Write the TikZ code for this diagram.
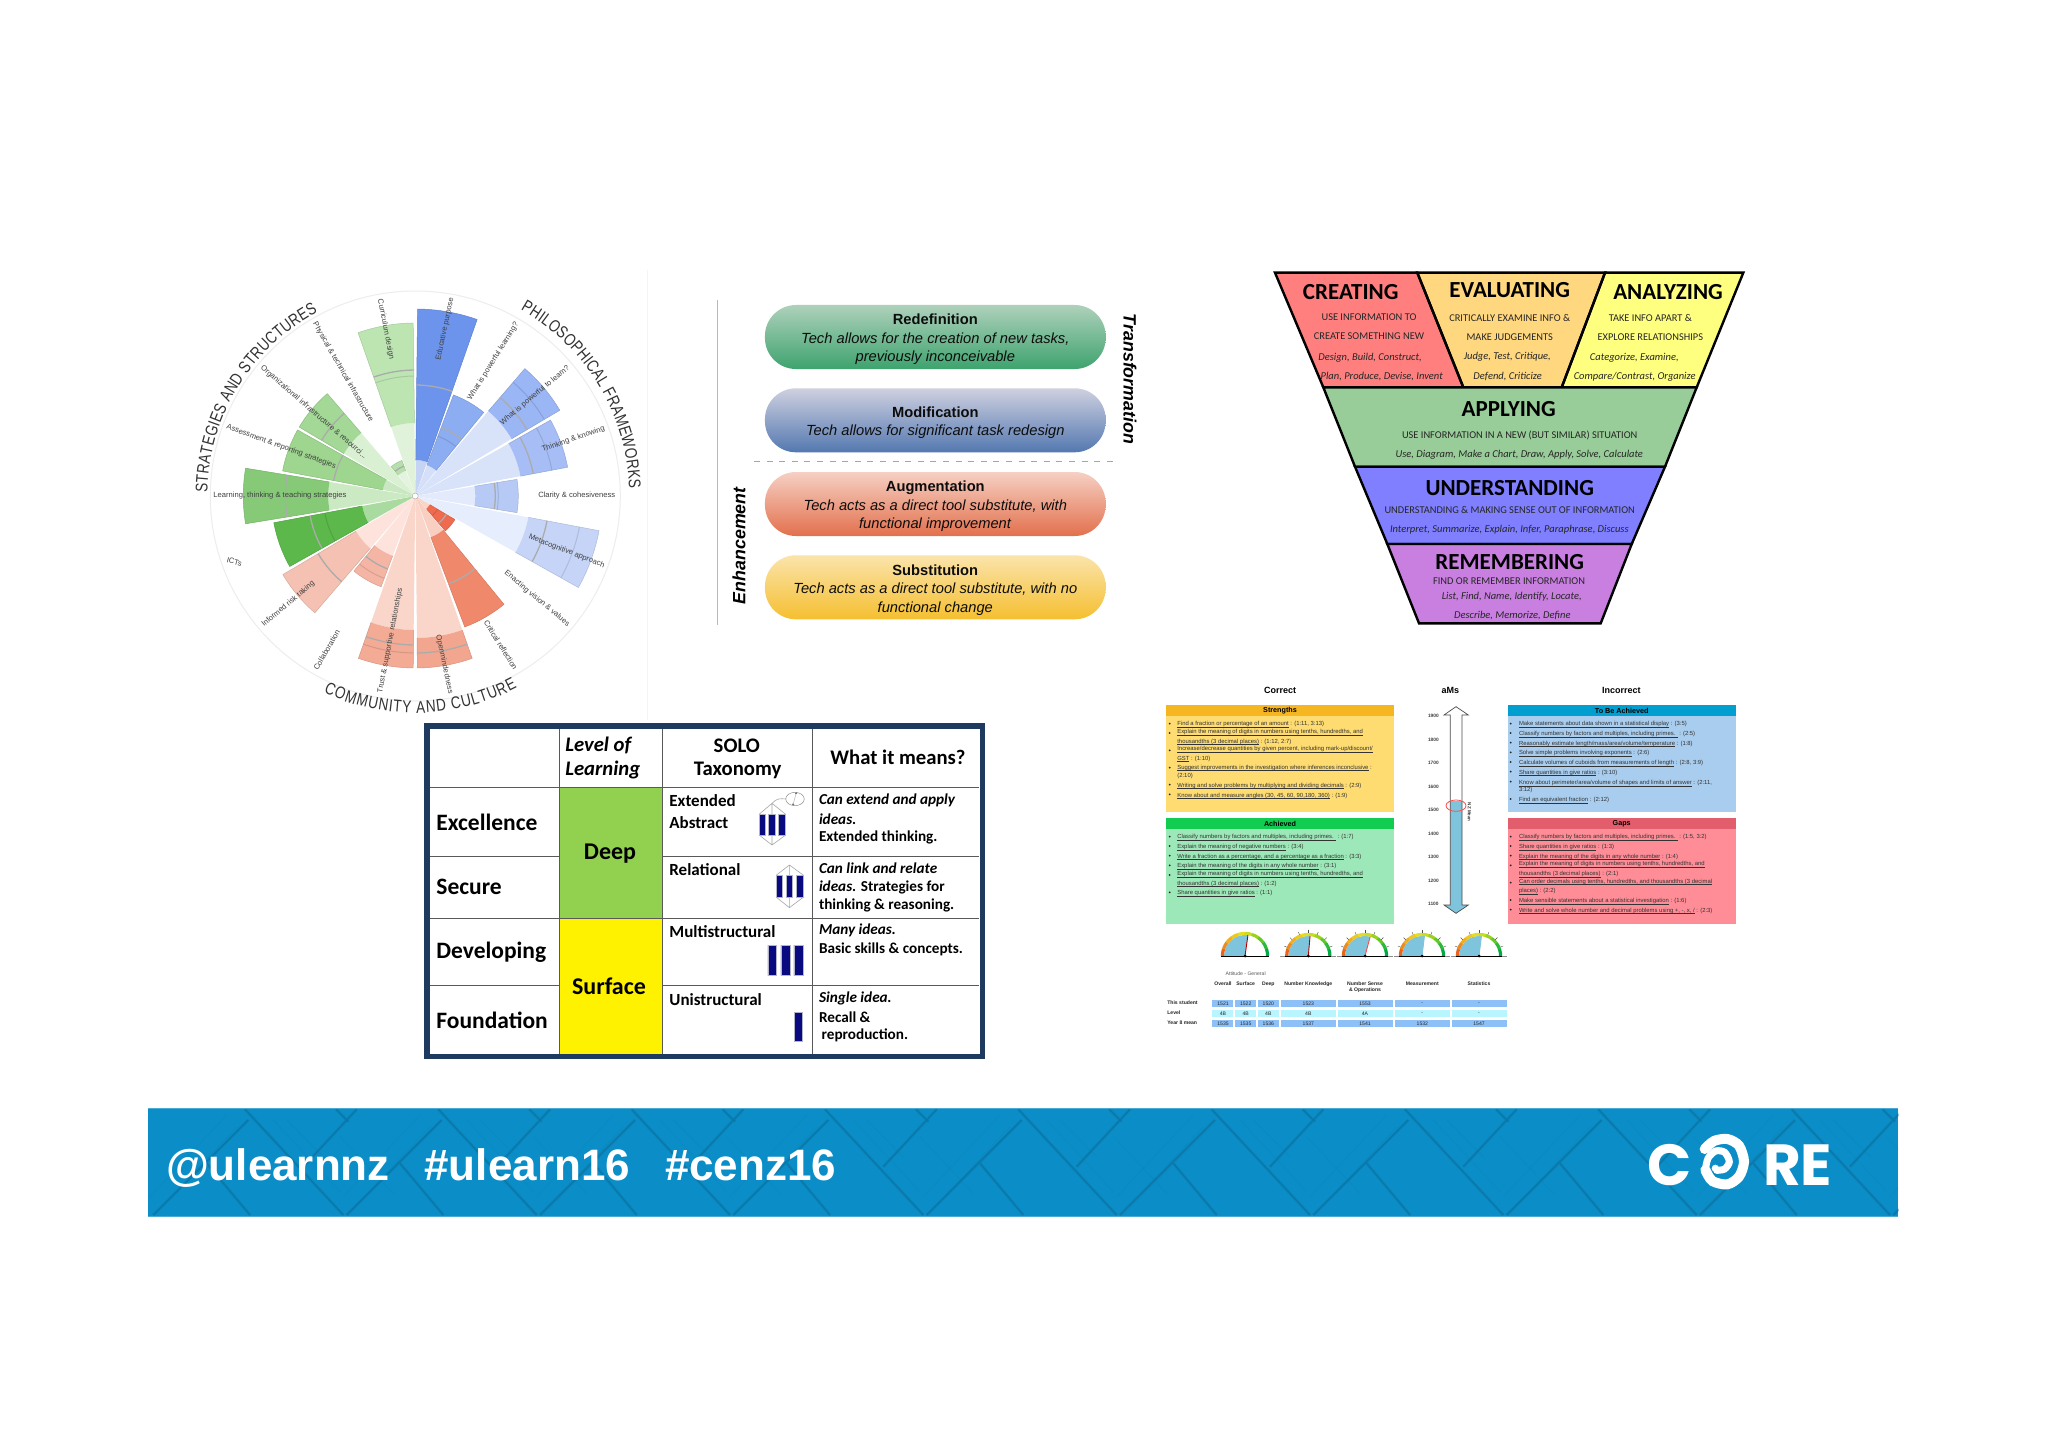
\documentclass[tikz,border=0pt]{standalone}
\usepackage{fontspec}
\usetikzlibrary{decorations.text}
\setmainfont{Liberation Sans}
\newfontfamily\carl{Carlito}
\newfontfamily\popp{Poppins}
\newfontfamily\arcf[FakeStretch=0.8]{Liberation Sans}
\newcommand\fs[1]{\fontsize{#1}{#1}\selectfont}
\newcounter{lblc}
\tikzset{lbl/.style={inner sep=0pt,outer sep=0pt},
 arclabel/.style={decorate,decoration={text along path,text align={fit to path}}}}
\newcommand\lb[4][]{\stepcounter{lblc}\node[lbl,#1] (t\arabic{lblc}) at (#2,#3) {#4};}
% wheel helpers (math angles, y up)
\newcommand\wsec[5]{\fill[#5] (#1-0.7:#3 pt) arc[start angle=#1-0.7,end angle=#2+0.7,radius=#3 pt] -- (#2+0.7:#4 pt) arc[start angle=#2+0.7,end angle=#1-0.7,radius=#4 pt] -- cycle;}
\newcommand\warc[4][wgrey]{\draw[#1,line width=#4] (#2-0.7:#3 pt) arc[start angle=#2-0.7,end angle=#2-19.3,radius=#3 pt];}
\newcommand\ws[7]{% a1 r-in r-out lightfill darkfill greyR darkarc
 \pgfmathsetmacro\wend{#1-20}
 \definecolor{wl}{HTML}{#4}\definecolor{wd}{HTML}{#5}
 \wsec{#1}{\wend}{0.5}{#2}{wl}
 \wsec{#1}{\wend}{#2}{#3}{wd}
 \draw[wd!88!black,line width=.5] (#1-0.7:#2 pt) -- (#1-0.7:#3 pt) arc[start angle=#1-0.7,end angle=\wend+0.7,radius=#3 pt] -- (\wend+0.7:#2 pt);
 \ifx\relax#7\relax\else\warc[wd!88!black]{#1}{#7}{1}\fi
 \warc{#1}{#6}{1.3}}
\newcommand\secl[4]{\lb[font=\fs{7.6},text=black!75,rotate=#4]{#1}{#2}{#3}}
\newcommand\bt[4]{\lb[yshift=-1pt,font=\carl\bfseries\fs{#3}]{#1}{#2}{#4}}
\newcommand\bb[3]{\lb[yshift=-1pt,font=\carl\fs{10.4},text=black!85]{#1}{#2}{#3}}
\newcommand\bi[3]{\lb[yshift=-1.5pt,font=\carl\itshape\fs{10.5},text=black!85]{#1}{#2}{#3}}
\newcommand\dl[4]{\lb[anchor=west,font=\fs{5.9},text=black!80]{#1}{#2}{\underline{\smash{#3}}#4}}
\newcommand\mydot[2]{\fill[black!85] (#1,#2) circle[radius=3];}
\newcommand\gauge[5]{%
 \begin{scope}[shift={(#1,956)},y=1pt]
 \fill[white] (180:#2 pt) arc[start angle=180,end angle=0,radius=#2 pt] -- cycle;
 \fill[gblue] (0,0) -- (180:#2 pt-3pt) arc[start angle=180,end angle=#3,radius=#2 pt-3pt] -- cycle;
 \foreach \c [count=\i from 0] in {ga,gb,gc,gd,ge,gf,gg,gh,gi,gj}{
 \pgfmathsetmacro\sa{180-\i*18}\pgfmathsetmacro\sb{\sa-18.5}
 \draw[\c,line width=3.2pt] (\sa:#2 pt-1.4pt) arc[start angle=\sa,end angle=\sb,radius=#2 pt-1.4pt];}
 #4
 \draw[#5,line width=.9pt] (0,0) -- (#3:#2 pt-3pt);
 \draw[black,line width=1pt] (-#2 pt,0) -- (#2 pt,0);
 \fill[black] (0,0) circle[radius=1.5pt];
 \end{scope}}
\newcommand\gticks{\foreach \t in {0,22.5,...,180}{\draw[black!70,line width=.4pt] (\t:23pt) -- (\t:26pt);}\draw[black!45,line width=.5pt] (-28pt,0) -- (28pt,0);}
\definecolor{wgrey}{HTML}{ABABAB}
\definecolor{gblue}{HTML}{7EC4DC}
\definecolor{ga}{HTML}{E8641C}\definecolor{gb}{HTML}{EE8A1E}\definecolor{gc}{HTML}{F2AE20}\definecolor{gd}{HTML}{ECC820}\definecolor{ge}{HTML}{E6DC20}
\definecolor{gf}{HTML}{C8DC20}\definecolor{gg}{HTML}{9CD21E}\definecolor{gh}{HTML}{60C828}\definecolor{gi}{HTML}{28BA38}\definecolor{gj}{HTML}{00A848}
\definecolor{frame}{HTML}{1F3A5F}
\definecolor{navybar}{HTML}{0A0A80}
\definecolor{halo}{HTML}{B4B4C8}
\definecolor{band}{HTML}{0B8EC7}
\definecolor{weave}{HTML}{0A76A8}
\definecolor{grn1}{HTML}{AED1BB}\definecolor{grn2}{HTML}{3EA36E}
\definecolor{blu1}{HTML}{CFD0E0}\definecolor{blu2}{HTML}{5378B0}
\definecolor{red1}{HTML}{F6D0C4}\definecolor{red2}{HTML}{E2704C}
\definecolor{yel1}{HTML}{FBE4AB}\definecolor{yel2}{HTML}{F5BF30}
\definecolor{bc}{HTML}{FF7F7F}\definecolor{be}{HTML}{FFD77F}\definecolor{ba}{HTML}{FFFF7F}
\definecolor{bp}{HTML}{98CC98}\definecolor{bu}{HTML}{7F7FFF}\definecolor{br}{HTML}{C87FE0}
\definecolor{hs}{HTML}{F5B622}\definecolor{bs}{HTML}{FEDC72}
\definecolor{ha}{HTML}{10CC50}\definecolor{bn}{HTML}{9DE8B8}
\definecolor{ht}{HTML}{009FCF}\definecolor{bt}{HTML}{A9CDEE}
\definecolor{hg}{HTML}{E25E6C}\definecolor{bg}{HTML}{FE8D97}
\definecolor{cell}{HTML}{8EC0F8}\definecolor{cellb}{HTML}{B9F5FF}
\definecolor{deep}{HTML}{92D050}
\tikzset{pill/.style={lbl,rounded corners=31pt,minimum width=340.7pt,minimum height=64pt},
 pilltext/.style={lbl,align=center,font=\fontsize{14.7}{18.6}\selectfont,text=black!95},
 tier/.style={draw=black,line width=2.4pt,line join=miter},
 grid/.style={draw=black!65,line width=.9pt},
 bar/.style={fill=navybar,draw=halo,line width=.7pt},
 rowhead/.style={anchor=west,font=\carl\bfseries\fs{23.5}},
 tophead/.style={font=\carl\bfseries\fs{20.7}},
 solo/.style={anchor=west,font=\carl\bfseries\fs{17}},
 mean/.style={anchor=west,font=\carl\bfseries\fs{15.2}},
 meani/.style={anchor=west,font=\carl\bfseries\itshape\fs{15.2}}}
\begin{document}
\begin{tikzpicture}[x=1pt,y=-1pt]
\useasboundingbox (0,0) rectangle (2048,1447);
\fill[white] (0,0) rectangle (2048,1447);
\draw[black!4,line width=1] (647,270) -- (647,720);
%% ---------- WHEEL ----------
\begin{scope}[shift={(415.3,496)},y=1pt]
\draw[black!7,line width=1] (0,0) circle[radius=205pt];
\ws{90}{36}{187}{C5D4F5}{6C94EC}{111}{}
\ws{70}{33}{108}{D5E0F8}{8DADF2}{73}{64}
\ws{50}{112}{168}{D8E3FA}{9BB6F4}{130}{150}
\ws{30}{107}{155}{D8E3FA}{A6BEF5}{120}{139}
\ws{10}{60}{103}{E3EAFB}{B7CAF5}{80}{83}
\ws{-10}{115}{187}{E6EDFC}{C6D5F7}{134}{167}
\ws{-30}{17}{46}{F9D4C8}{EF6B4F}{36}{26}
\ws{-50}{44}{140}{F9CFC1}{F0896C}{94}{}
\ws{-70}{142}{172}{FAD6CA}{F3A68F}{157}{}
\ws{-90}{134}{172}{FAD6CA}{F3AB96}{149}{157}
\ws{-110}{64}{97}{FDE3DB}{F5B5A4}{78}{88}
\ws{-130}{69}{154}{FDE3DB}{F5C1B2}{113}{}
\ws{-150}{54}{144}{A9DBA0}{5CB84A}{107}{92}
\ws{-170}{87}{172}{CBE9C3}{86CA78}{130}{}
\ws{170}{33}{135}{C9E8C1}{9ED68F}{83}{}
\ws{150}{83}{135}{D9F0D3}{A3D896}{109}{}
\ws{130}{27}{38}{E3F3DF}{B5E0AB}{32}{}
\ws{110}{73}{173}{E0F3DA}{BDE5B2}{126}{120}
\fill[white] (0,0) circle[radius=3pt];
\draw[black!35,line width=.4] (0,0) circle[radius=3pt];
\path[arclabel,decoration={text={|\arcf\fs{17}\color{black!80}|STRATEGIES AND STRUCTURES}}] (179:208pt) arc[start angle=179,end angle=118,radius=208pt];
\path[arclabel,decoration={text={|\arcf\fs{17}\color{black!80}|PHILOSOPHICAL FRAMEWORKS}}] (60.5:214pt) arc[start angle=60.5,end angle=2,radius=214pt];
\path[arclabel,decoration={text={|\arcf\fs{17}\color{black!80}|COMMUNITY AND CULTURE}}] (245:217pt) arc[start angle=245,end angle=298,radius=217pt];
\end{scope}
\secl{385.7}{329.3}{Curriculum design}{-79}
\secl{343}{372.3}{Physical \& technical infrastructure}{-60}
\secl{313.7}{412.4}{Organizational infrastructure \& resourci...}{-41}
\secl{281.3}{446.7}{Assessment \& reporting strategies}{-20}
\secl{280}{496}{Learning, thinking \& teaching strategies}{0}
\secl{234.3}{561.7}{ICTs}{-15}
\secl{288.3}{604}{Informed risk taking}{40}
\secl{326.7}{650}{Collaboration}{60}
\secl{390.3}{640.7}{Trust \& supportive relationships}{79}
\secl{444.3}{664.3}{Openmindedness}{-78}
\secl{500.7}{645}{Critical reflection}{-58}
\secl{537}{598.7}{Enacting vision \& values}{-40}
\secl{566.7}{551.3}{Metacognitive approach}{-21}
\secl{576.7}{496}{Clarity \& cohesiveness}{0}
\secl{573.3}{439.3}{Thinking \& knowing}{19}
\secl{535}{395.3}{What is powerful to learn?}{40}
\secl{493.3}{361.3}{What is powerful learning?}{58}
\secl{445}{329}{Educative purpose}{78}
%% ---------- SAMR ----------
\draw[black!28,line width=1] (717.3,300) -- (717.3,625);
\draw[black!35,line width=1.2,dash pattern=on 6pt off 6.6pt] (754,461.3) -- (1117,461.3);
\node[pill,top color=grn1,bottom color=grn2] (redef) at (935.3,337) {};
\node[pill,top color=blu1,bottom color=blu2] (modif) at (935.3,420.3) {};
\node[pill,top color=red1,bottom color=red2] (augm) at (935.3,504) {};
\node[pill,top color=yel1,bottom color=yel2] (subst) at (935.3,587.3) {};
\node[pilltext] (redeft) at (935.3,339.5) {\textbf{Redefinition}\\\textit{Tech allows for the creation of new tasks,}\\\textit{previously inconceivable}};
\node[pilltext] (modift) at (935.3,422.8) {\textbf{Modification}\\\textit{Tech allows for significant task redesign}};
\node[pilltext] (augmt) at (935.3,506.5) {\textbf{Augmentation}\\\textit{Tech acts as a direct tool substitute, with}\\\textit{functional improvement}};
\node[pilltext] (substt) at (935.3,589.8) {\textbf{Substitution}\\\textit{Tech acts as a direct tool substitute, with no}\\\textit{functional change}};
\lb[rotate=-90,font=\bfseries\itshape\fs{17.8}]{1130}{379}{Transformation}
\lb[rotate=90,font=\bfseries\itshape\fs{17.8}]{739}{545.7}{Enhancement}
%% ---------- BLOOM ----------
\fill[bc] (1275,272.7) -- (1417.3,272.7) -- (1463.3,387.3) -- (1323.3,387.3) -- cycle;
\fill[be] (1417.3,272.7) -- (1605,272.7) -- (1561.7,387.3) -- (1463.3,387.3) -- cycle;
\fill[ba] (1605,272.7) -- (1743.3,272.7) -- (1696.7,387.3) -- (1561.7,387.3) -- cycle;
\path[tier] (1275,272.7) -- (1417.3,272.7) -- (1463.3,387.3) -- (1323.3,387.3) -- cycle;
\path[tier] (1417.3,272.7) -- (1605,272.7) -- (1561.7,387.3) -- (1463.3,387.3) -- cycle;
\path[tier] (1605,272.7) -- (1743.3,272.7) -- (1696.7,387.3) -- (1561.7,387.3) -- cycle;
\path[tier,fill=bp] (1323.3,387.3) -- (1696.7,387.3) -- (1665,466.7) -- (1355,466.7) -- cycle;
\path[tier,fill=bu] (1355,466.7) -- (1665,466.7) -- (1631.7,544) -- (1387.3,544) -- cycle;
\path[tier,fill=br] (1387.3,544) -- (1631.7,544) -- (1600.7,623.3) -- (1419,623.3) -- cycle;
\bt{1350.7}{290.7}{23}{CREATING}
\bb{1369}{315.7}{USE INFORMATION TO}
\bb{1369}{335}{CREATE SOMETHING NEW}
\bi{1370}{356.3}{Design, Build, Construct,}
\bi{1381.7}{375.3}{Plan, Produce, Devise, Invent}
\bt{1509.7}{288.7}{23}{EVALUATING}
\bb{1509.7}{316.7}{CRITICALLY EXAMINE INFO \&}
\bb{1509.7}{336}{MAKE JUDGEMENTS}
\bi{1507.3}{355.3}{Judge, Test, Critique,}
\bi{1507.7}{374.7}{Defend, Criticize}
\bt{1668}{290.7}{23}{ANALYZING}
\bb{1650.3}{317}{TAKE INFO APART \&}
\bb{1650.3}{336.3}{EXPLORE RELATIONSHIPS}
\bi{1634.3}{356.7}{Categorize, Examine,}
\bi{1634.7}{375.7}{Compare/Contrast, Organize}
\bt{1508.7}{408.3}{23}{APPLYING}
\bb{1519.7}{434}{USE INFORMATION IN A NEW (BUT SIMILAR) SITUATION}
\bi{1519.3}{453.3}{Use, Diagram, Make a Chart, Draw, Apply, Solve, Calculate}
\bt{1509.7}{486.7}{23}{UNDERSTANDING}
\bb{1509.7}{508.7}{UNDERSTANDING \& MAKING SENSE OUT OF INFORMATION}
\bi{1509.3}{528}{Interpret, Summarize, Explain, Infer, Paraphrase, Discuss}
\bt{1509.7}{561}{23}{REMEMBERING}
\bb{1509}{580.3}{FIND OR REMEMBER INFORMATION}
\bi{1511.7}{594.7}{List, Find, Name, Identify, Locate,}
\bi{1512.3}{614}{Describe, Memorize, Define}
%% ---------- SOLO ----------
\fill[deep] (559,787.3) rectangle (662.7,918);
\fill[yellow] (559,918) rectangle (662.7,1054);
\path[grid] (559,729) -- (559,1054) (662.7,729) -- (662.7,1054) (812.8,729) -- (812.8,1054);
\path[grid] (430,787.3) -- (979,787.3) (430,918) -- (979,918);
\path[grid] (430,856) -- (559,856) (662.7,856) -- (979,856) (430,985.7) -- (559,985.7) (662.7,985.7) -- (979,985.7);
\draw[frame,line width=5.2pt] (427,726) rectangle (982.3,1056.5);
\lb[anchor=west,font=\carl\bfseries\itshape\fs{20.7}]{565.3}{745.7}{Level of}
\lb[anchor=west,font=\carl\bfseries\itshape\fs{20.7}]{565.3}{770.3}{Learning}
\lb[tophead]{736.8}{745.7}{SOLO}
\lb[tophead]{737.6}{770.7}{Taxonomy}
\lb[tophead]{898}{757.7}{What it means?}
\lb[rowhead]{436.4}{822.7}{Excellence}
\lb[rowhead]{436.4}{887.3}{Secure}
\lb[rowhead]{436.4}{952.3}{Developing}
\lb[rowhead]{436.4}{1020.7}{Foundation}
\lb[font=\carl\bfseries\fs{24}]{610}{853.3}{Deep}
\lb[font=\carl\bfseries\fs{24}]{609}{986.7}{Surface}
\lb[solo]{669.4}{801}{Extended}
\lb[solo]{669.4}{822.3}{Abstract}
\lb[solo]{669.4}{870}{Relational}
\lb[solo]{669.4}{932}{Multistructural}
\lb[solo]{669.4}{999.3}{Unistructural}
\lb[meani]{819}{800}{Can extend and apply}
\lb[meani]{819}{819}{ideas.}
\lb[mean]{819}{837}{Extended thinking.}
\lb[meani]{819}{868.3}{Can link and relate}
\lb[mean]{819}{887.7}{\textit{ideas.} Strategies for}
\lb[mean]{819}{905.7}{thinking \& reasoning.}
\lb[meani]{819}{930.7}{Many ideas.}
\lb[mean]{819}{949.7}{Basic skills \& concepts.}
\lb[meani]{819}{998.3}{Single idea.}
\lb[mean]{819}{1017}{Recall \&}
\lb[mean]{821.7}{1035.3}{reproduction.}
\begin{scope}[shift={(418.94,715)},xscale=.3705,yscale=1/3]
\draw[black!35,line width=.6pt] (953,265) -- (918,298) (953,265) -- (953,298) (953,265) -- (990,298) (953,390) -- (918,360) (953,390) -- (953,360) (953,390) -- (990,360);
\draw[black!35,line width=.6pt] (953,265) .. controls (965,250) and (975,250) .. (990,252);
\draw[black!45,line width=.5pt] (1015,252) ellipse[x radius=25,y radius=20];
\fill[black!60] (1018,235) circle[radius=3] (1010,268) circle[radius=3];
\draw[black!35,line width=.4pt] (1018,235) -- (1010,268);
\path[bar] (918,298) rectangle (936,360) (944,298) rectangle (962,360) (971,298) rectangle (989,360);
\draw[black!35,line width=.6pt] (1000,450) -- (965,480) (1000,450) -- (1000,480) (1000,450) -- (1037,480) (1000,578) -- (965,547) (1000,578) -- (1000,547) (1000,578) -- (1037,547);
\path[bar] (964,480) rectangle (982,547) (991,480) rectangle (1009,547) (1019,480) rectangle (1037,547);
\path[bar] (942,690) rectangle (965,782) (977,690) rectangle (1002,782) (1012,690) rectangle (1037,782);
\path[bar] (1012,893) rectangle (1036,980);
\end{scope}
%% ---------- DASHBOARD ----------
\lb[font=\bfseries\fs{9}]{1280}{690.7}{Correct}
\lb[font=\bfseries\fs{9}]{1450.3}{690.7}{aMs}
\lb[font=\bfseries\fs{9}]{1621.3}{690.7}{Incorrect}
\fill[bs] (1166,705) rectangle (1394,811.7);
\fill[hs] (1166,705) rectangle (1394,716);
\fill[bn] (1166,818.3) rectangle (1394,924.3);
\fill[ha] (1166,818.3) rectangle (1394,829.3);
\fill[bt] (1507.7,705) rectangle (1735.7,811.7);
\fill[ht] (1507.7,705) rectangle (1735.7,716);
\fill[bg] (1507.7,818.3) rectangle (1735.7,924.3);
\fill[hg] (1507.7,818.3) rectangle (1735.7,829.3);
\lb[font=\bfseries\fs{7.2}]{1280}{710.5}{Strengths}
\lb[font=\bfseries\fs{7.2}]{1280}{823.8}{Achieved}
\lb[font=\bfseries\fs{7.2}]{1621.7}{710.5}{To Be Achieved}
\lb[font=\bfseries\fs{7.2}]{1621.7}{823.8}{Gaps}
\begin{scope}[shift={(1155,675)},scale=1/3]
\foreach \y in {146,174,226,278,329,358,485,513,542,571,600,652}{\mydot{44}{\y}}
\dl{67}{149}{Find a fraction or percentage of an amount}{ : (1:11, 3:13)}
\dl{67}{178}{Explain the meaning of digits in numbers using tenths, hundredths, and}{}
\dl{67}{201}{thousandths (3 decimal places)}{ : (1:12, 2:7)}
\dl{67}{230}{Increase/decrease quantities by given percent, including mark-up/discount/}{}
\dl{67}{252}{GST}{ : (1:10)}
\dl{67}{281}{Suggest improvements in the investigation where inferences inconclusive}{ :}
\dl{67}{304}{}{(2:10)}
\dl{67}{333}{Writing and solve problems by multiplying and dividing decimals}{ : (2:9)}
\dl{67}{363}{Know about and measure angles (30, 45, 60, 90,180, 360)}{ : (1:9)}
\dl{67}{488}{Classify numbers by factors and multiples, including primes. }{ : (1:7)}
\dl{67}{517}{Explain the meaning of negative numbers}{ : (3:4)}
\dl{67}{546}{Write a fraction as a percentage, and a percentage as a fraction}{ : (3:3)}
\dl{67}{575}{Explain the meaning of the digits in any whole number}{ : (3:1)}
\dl{67}{604}{Explain the meaning of digits in numbers using tenths, hundredths, and}{}
\dl{67}{627}{thousandths (3 decimal places)}{ : (1:2)}
\dl{67}{655}{Share quantities in give ratios}{ : (1:1)}
% arrow
\fill[white] (867,120) -- (903,95) -- (940,120) -- (921,120) -- (921,378) -- (886,378) -- (886,120) -- cycle;
\fill[gblue] (886,378) -- (921,378) -- (921,690) -- (940,690) -- (903,715) -- (867,690) -- (886,690) -- cycle;
\draw[black!70,line width=.7pt] (886,120) -- (867,120) -- (903,95) -- (940,120) -- (921,120) -- (921,690) -- (940,690) -- (903,715) -- (867,690) -- (886,690) -- cycle;
\draw[red!70!white,line width=.8pt] (903,392) ellipse[x radius=30,y radius=17];
\foreach \v/\y in {1900/124,1800/195,1700/264,1600/335,1500/405,1400/476,1300/546,1200/617,1100/688}{\lb[font=\bfseries\fs{4.8},text=black!75]{835}{\y}{\v}}
\lb[rotate=-90,font=\bfseries\fs{4.5},text=black!80]{943}{412}{NZ Mean}
\end{scope}
\begin{scope}[shift={(1400,675)},scale=1/3]
\foreach \y in {146,174,203,232,261,290,320,372,485,513,542,571,623,675,704}{\mydot{332}{\y}}
\dl{357}{149}{Make statements about data shown in a statistical display}{ : (3:5)}
\dl{357}{178}{Classify numbers by factors and multiples, including primes. }{ : (2:5)}
\dl{357}{207}{Reasonably estimate length/mass/area/volume/temperature}{ : (1:8)}
\dl{357}{236}{Solve simple problems involving exponents}{ : (2:6)}
\dl{357}{265}{Calculate volumes of cuboids from measurements of length}{ : (2:8, 3:9)}
\dl{357}{294}{Share quantities in give ratios}{ : (3:10)}
\dl{357}{325}{Know about perimeter/area/volume of shapes and limits of answer}{ : (2:11,}
\dl{357}{347}{}{3:12)}
\dl{357}{376}{Find an equivalent fraction}{ : (2:12)}
\dl{357}{488}{Classify numbers by factors and multiples, including primes. }{ : (1:5, 3:2)}
\dl{357}{517}{Share quantities in give ratios}{ : (1:3)}
\dl{357}{546}{Explain the meaning of the digits in any whole number}{ : (1:4)}
\dl{357}{575}{Explain the meaning of digits in numbers using tenths, hundredths, and}{}
\dl{357}{598}{thousandths (3 decimal places)}{ : (2:1)}
\dl{357}{627}{Can order decimals using tenths, hundredths, and thousandths (3 decimal}{}
\dl{357}{650}{places)}{ : (2:2)}
\dl{357}{679}{Make sensible statements about a statistical investigation}{ : (1:6)}
\dl{357}{708}{Write and solve whole number and decimal problems using +, -, x, /}{ : (2:3)}
\end{scope}
% gauges
\gauge{1245}{24}{82}{}{red!70!black}
\gauge{1308.3}{23}{85}{\gticks}{red!70!black}
\gauge{1365}{23}{75}{\gticks}{red!70!white}
\gauge{1422}{23}{83}{\gticks}{gblue}
\gauge{1479}{23}{83}{\gticks}{gblue}
% table
\begin{scope}[shift={(1155,925)},scale=1/3]
\foreach \a/\b in {172/235,241/304,309/372,379/542,549/713,720/884,891/1055}{
 \fill[cell] (\a,224) rectangle (\b,246);
 \fill[cellb] (\a,255) rectangle (\b,276);
 \fill[cell] (\a,284) rectangle (\b,306);}
\lb[font=\fs{5.1},text=black!65]{272}{145}{Attitude - General}
\foreach \x/\t in {204/Overall,272/Surface,340/Deep,460/Number Knowledge,802/Measurement,972/Statistics}{\lb[font=\bfseries\fs{5.1},text=black!85]{\x}{177}{\t}}
\lb[font=\bfseries\fs{5.1},text=black!85]{630}{177}{Number Sense}
\lb[font=\bfseries\fs{5.1},text=black!85]{630}{197}{\& Operations}
\lb[anchor=west,font=\bfseries\fs{5.1},text=black!85]{37}{233}{This student}
\lb[anchor=west,font=\bfseries\fs{5.1},text=black!85]{37}{262}{Level}
\lb[anchor=west,font=\bfseries\fs{5.1},text=black!85]{37}{293}{Year 8 mean}
\foreach \x/\p/\q/\r in {204/1521/4B/1535,272/1522/4B/1535,340/1520/4B/1536,460/1523/4B/1537,630/1553/4A/1541,802/-/-/1532,972/-/-/1547}{
 \lb[font=\fs{5.1},text=black!85]{\x}{236}{\p}
 \lb[font=\fs{5.1},text=black!85]{\x}{266}{\q}
 \lb[font=\fs{5.1},text=black!85]{\x}{296}{\r}}
\end{scope}
%% ---------- BAND ----------
\fill[band] (147.5,1108.3) rectangle (1898.3,1216);
\begin{scope}
\clip (147.5,1108.3) rectangle (1898.3,1216);
\foreach \k in {-4,...,5}{
 \begin{scope}[shift={(900+\k*193.33,1100)},scale=1/3]
 \draw[weave,opacity=.13,line width=1.2pt] (300,45) -- (70,290) (330,80) -- (140,285) (440,60) -- (640,275) (640,110) -- (800,280) (480,60) -- (590,170);
 \draw[weave,opacity=.4,line width=3pt] (355,28) -- (650,345) (365,60) -- (80,345) (240,190) -- (370,345) (690,28) -- (530,200) (628,28) -- (665,65);
 \draw[weave,line width=1pt] (355,28) -- (650,345) (365,60) -- (80,345) (240,190) -- (370,345) (690,28) -- (530,200) (628,28) -- (665,65);
 \end{scope}}
\end{scope}
\draw[band!75!white,line width=.9pt] (147.5,1108.3) -- (1898.3,1108.3) (147.5,1216) -- (1898.3,1216);
\lb[anchor=base west,font=\bfseries\fs{44},text=white]{166}{1180}{@ulearnnz}
\lb[anchor=base west,font=\bfseries\fs{44},text=white]{424.5}{1180}{\#ulearn16}
\lb[anchor=base west,font=\bfseries\fs{44},text=white]{665}{1180}{\#cenz16}
% logo
\lb[font=\popp\bfseries\fs{58},text=white]{1670}{1165}{C}
\lb[anchor=west,font=\popp\bfseries\fs{58},text=white]{1763}{1165}{RE}
\begin{scope}[shift={(1694,1125)},scale=1/3]
\draw[white,line width=10pt,line cap=round] plot[smooth] coordinates {(32,72) (60,48) (100,42) (135,62) (150,110) (135,155) (100,178) (55,168) (34,135)};
\draw[white,line width=7pt,line cap=round] plot[smooth] coordinates {(34,135) (42,100) (65,78) (92,82) (106,110) (92,132) (68,136)};
\fill[white] (64,130) circle[radius=11];
\end{scope}
\end{tikzpicture}
\end{document}
